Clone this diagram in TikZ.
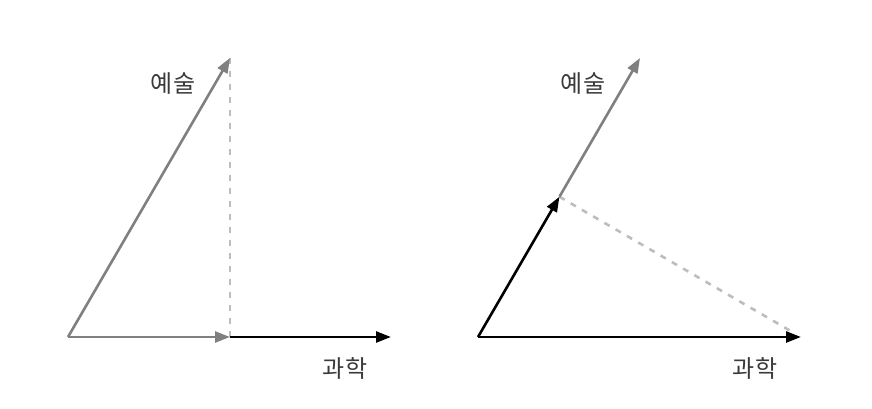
\documentclass[tikz,border=0pt]{standalone}
\usepackage{fontspec}
\newfontfamily\kr{Noto Sans CJK KR}
\usetikzlibrary{arrows.meta,calc}
\definecolor{vgray}{HTML}{808080}
\definecolor{dgray}{HTML}{BDBDBD}
\definecolor{tgray}{HTML}{3A3A3A}
\tikzset{
  vec/.style={line width=2.6pt, -{Triangle[length=15pt,width=11pt]}},
  grayvec/.style={vec, draw=vgray, fill=vgray},
  blackvec/.style={vec, draw=black},
  proj/.style={draw=dgray, line width=2.6pt, dash pattern=on 6pt off 7pt},
  lbl/.style={font=\kr\fontsize{24}{26}\selectfont, text=tgray, inner sep=0pt}
}
\begin{document}
\begin{tikzpicture}[x=1pt,y=1pt]
\useasboundingbox (0,0) rectangle (872,409);
% left diagram
\coordinate (O1) at (68,72);
\coordinate (A1) at (230,351);
\coordinate (P1) at (230,72);
\coordinate (S1) at (391,72);
\draw[proj] (A1) -- (P1);
\draw[grayvec] (O1) -- (A1);
\draw[blackvec] (P1) -- (S1);
\draw[grayvec] (O1) -- (P1);
\node[lbl] (art1) at (173,325) {예술};
\node[lbl] (sci1) at (345,41) {과학};
% right diagram
\coordinate (O2) at (478,72);
\coordinate (A2) at (640,351);
\coordinate (S2) at (801,72);
\coordinate (P2) at ($(O2)!(S2)!(A2)$);
\draw[proj, shorten >=10pt] (P2) -- (S2);
\draw[grayvec] (P2) -- (A2);
\draw[blackvec] (O2) -- (P2);
\draw[blackvec] (O2) -- (S2);
\node[lbl] (art2) at (583,325) {예술};
\node[lbl] (sci2) at (755,41) {과학};
\end{tikzpicture}
\end{document}
